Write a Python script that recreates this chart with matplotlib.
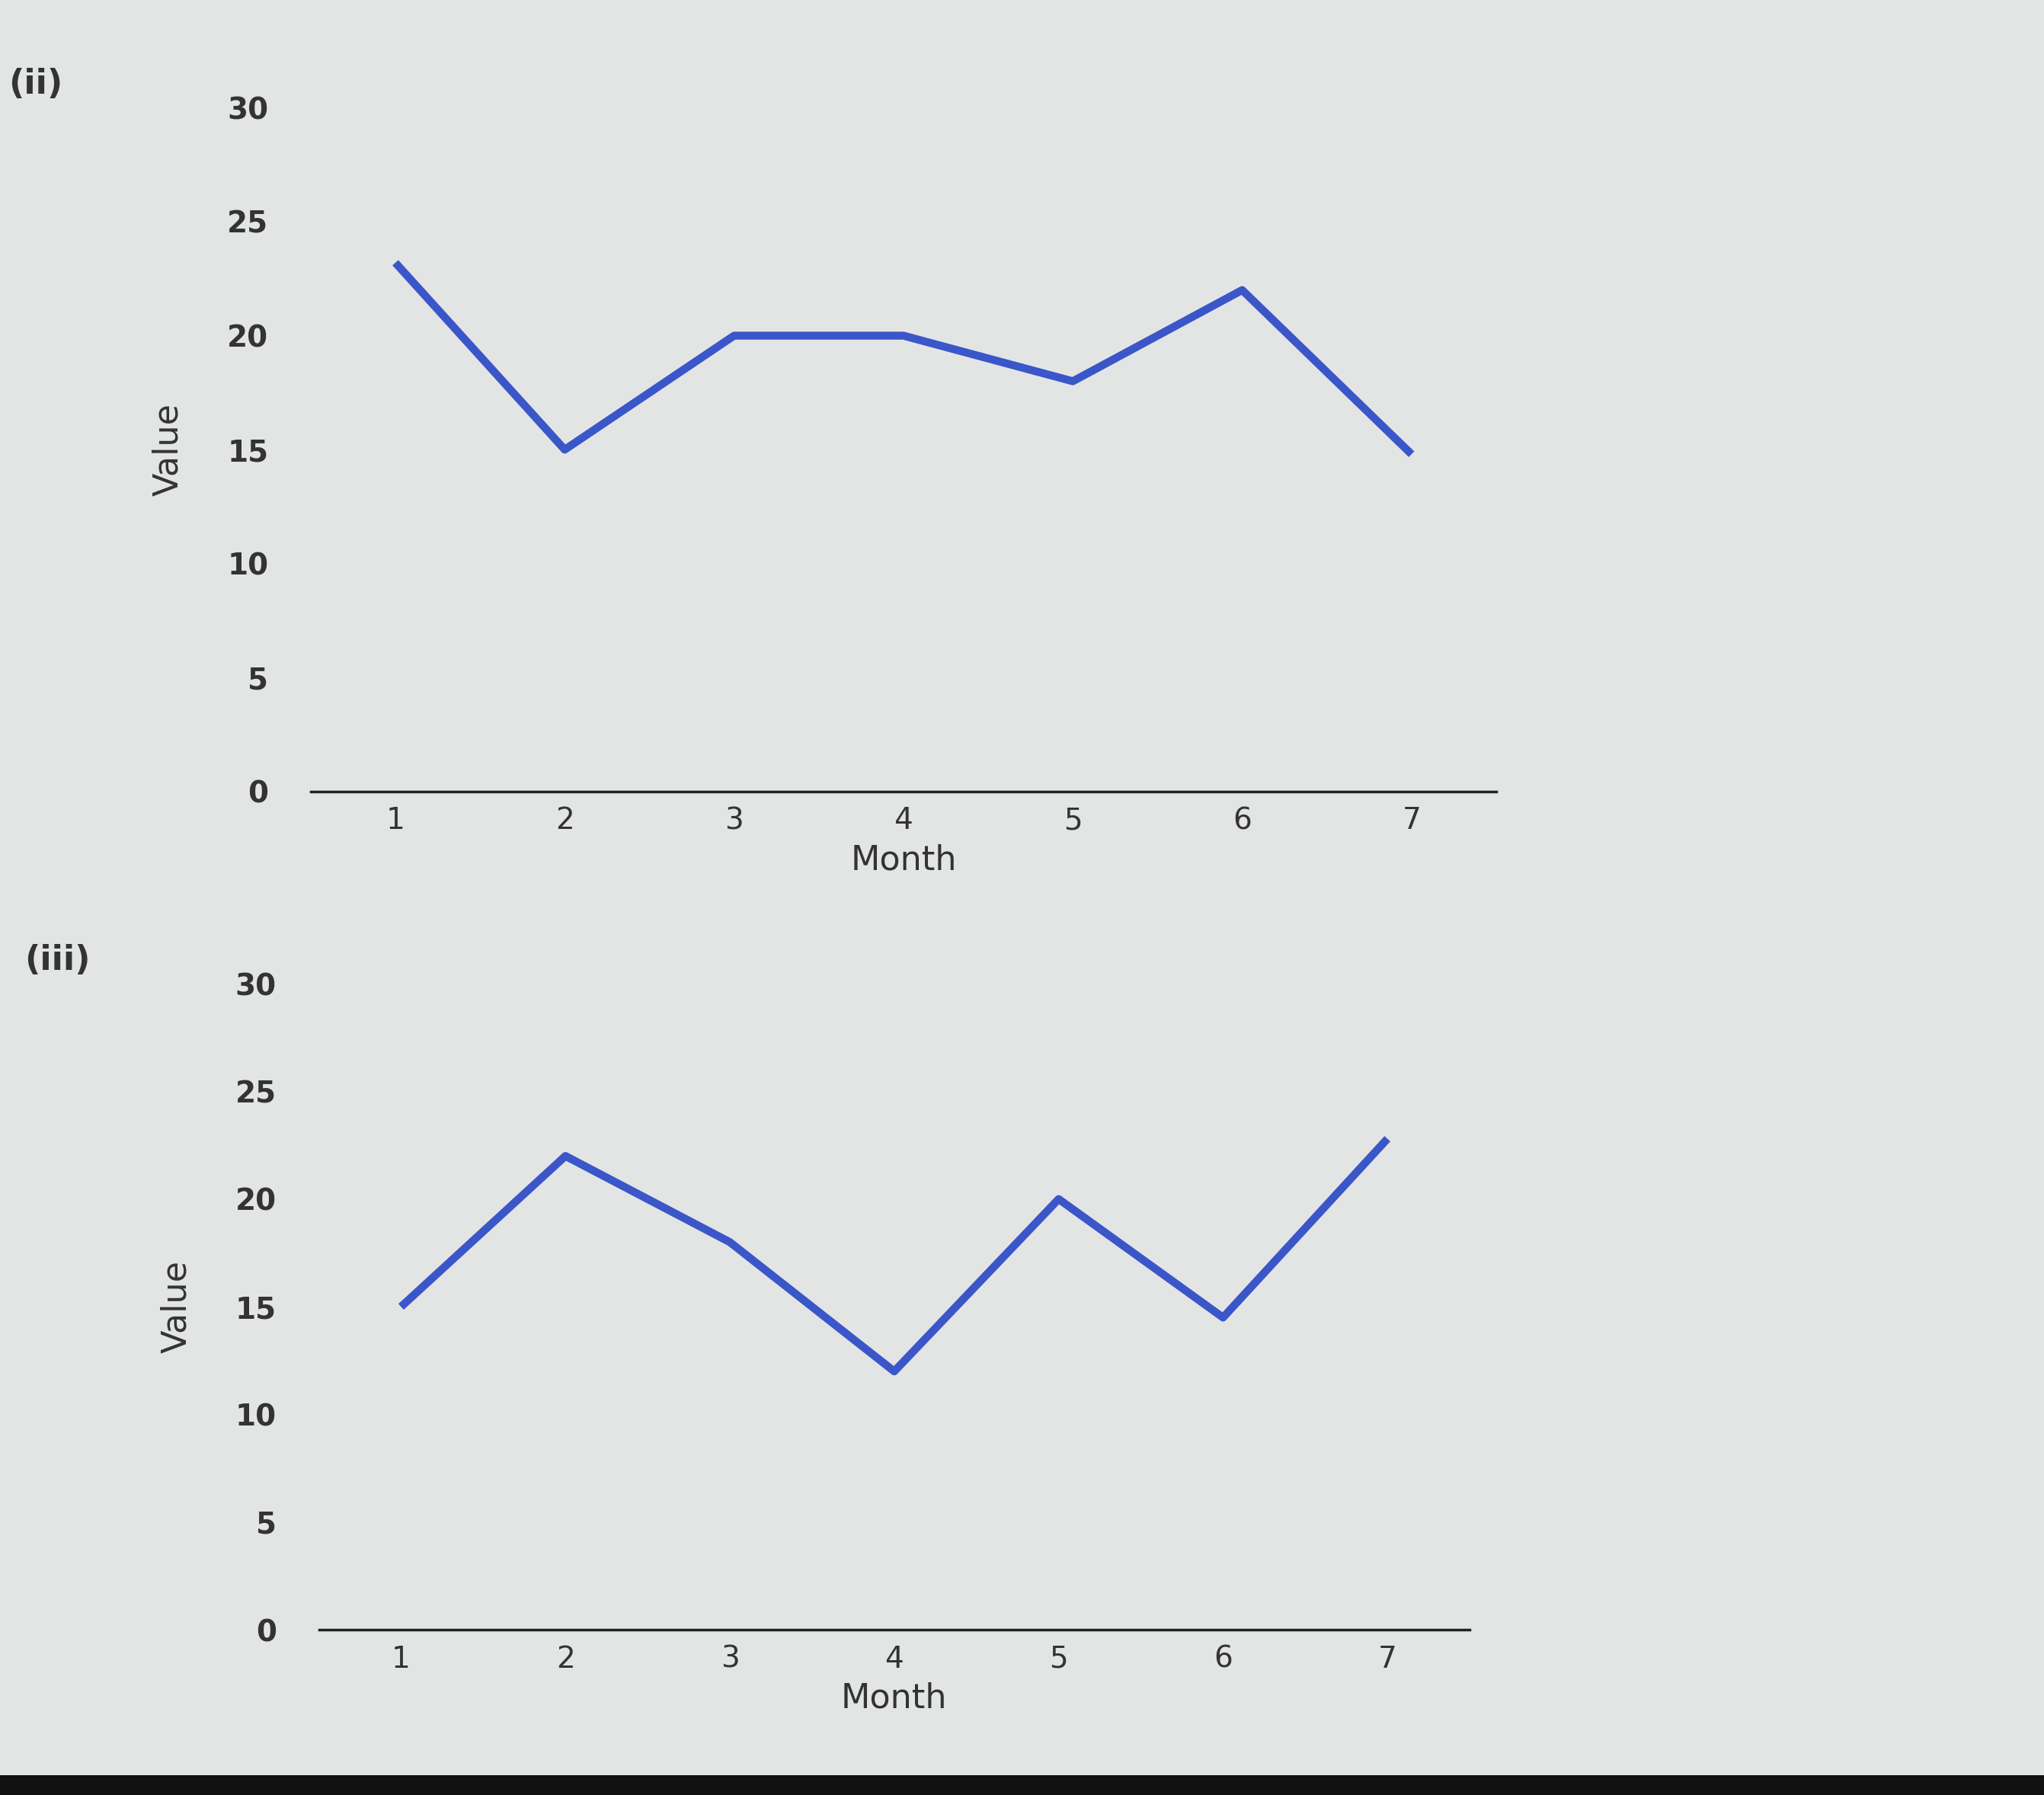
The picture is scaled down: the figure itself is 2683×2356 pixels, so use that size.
import matplotlib.pyplot as plt
from matplotlib.patches import Rectangle

months = [1, 2, 3, 4, 5, 6, 7]
values_ii = [23.2, 15.0, 20.0, 20.0, 18.0, 22.0, 14.8]
values_iii = [15.0, 22.0, 18.0, 12.0, 20.0, 14.5, 22.8]
yticks = [0, 5, 10, 15, 20, 25, 30]

bg = "#e3e5e5"
line_color = "#3a56c9"

fig = plt.figure(figsize=(26.83, 23.56), dpi=100, facecolor=bg)


def panel(rect, values, label, label_xy):
    ax = fig.add_axes(rect)
    ax.set_facecolor(bg)
    ax.plot(months, values, color=line_color, linewidth=7.5, solid_capstyle="butt")
    ax.set_xlim(0.5, 7.5)
    ax.set_ylim(0, 30)
    ax.set_xticks(months)
    ax.set_yticks(yticks)
    for s in ["top", "right", "left"]:
        ax.spines[s].set_visible(False)
    ax.spines["bottom"].set_linewidth(2.5)
    ax.spines["bottom"].set_color("#222222")
    ax.tick_params(axis="both", length=0, labelsize=28, colors="#333333")
    ax.tick_params(axis="y", pad=40)
    ax.tick_params(axis="x", pad=14)
    for t in ax.get_yticklabels():
        t.set_fontweight("bold")
    ax.set_xlabel("Month", fontsize=32, color="#333333", labelpad=8)
    ax.set_ylabel("Value", fontsize=32, color="#333333", labelpad=40)
    fig.text(label_xy[0], label_xy[1], label, fontsize=32, fontweight="bold",
             color="#333333", ha="left", va="center")
    return ax


panel([0.152, 0.559, 0.58, 0.381], values_ii, "(ii)", (0.004, 0.953))
panel([0.156, 0.092, 0.563, 0.360], values_iii, "(iii)", (0.012, 0.465))

# dark edge along the bottom of the photo
fig.add_artist(Rectangle((0, 0), 1, 0.011, transform=fig.transFigure,
                         facecolor="#111111", edgecolor="none"))

fig.savefig("out.png", dpi=100, facecolor=bg)
